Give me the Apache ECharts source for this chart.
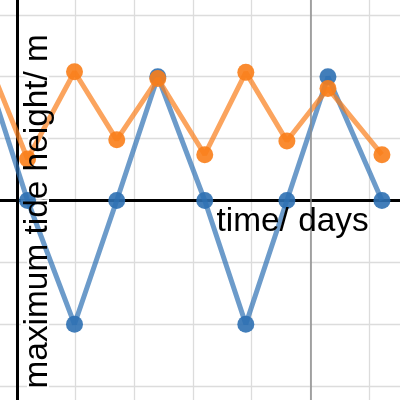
<!DOCTYPE html>
<html>
<head>
<meta charset="utf-8">
<script src="https://cdn.jsdelivr.net/npm/echarts@6/dist/echarts.min.js"></script>
<style>
html,body{margin:0;padding:0;background:#fff;}
#c{width:400px;height:400px;}
</style>
</head>
<body>
<div id="c"></div>
<script>
// time in days
var days = [-2.5, 0.9, 4.9, 8.5, 12, 16, 19.5, 23, 26.5, 31.1];
// blue series (maximum tide height / m)
var blueHeights = [2, 0, -2, 0, 2, 0, -2, 0, 2, 0];
// orange series (maximum tide height / m)
var orangeHeights = [2.27, 0.67, 2.08, 0.98, 1.97, 0.74, 2.07, 0.96, 1.81, 0.74];
// major gridline position (days)
var majorX = [25];
var xTitle = 'time/ days';
var yTitle = 'maximum tide height/ m';

function pairs(xs, ys){ return xs.map(function(x,i){ return [x, ys[i]]; }); }

var chart = echarts.init(document.getElementById('c'), null, {renderer:'canvas'});
var gridColor = '#dcdcdc';
var FONT = '33.4px "Liberation Sans", Arial, sans-serif';
function titleText(text, x, y, rot, halo){
  var st = { text: text, font: FONT, fill: halo ? 'rgba(0,0,0,0)' : '#000',
    align: 'left', verticalAlign: 'middle' };
  if (halo) { st.stroke = '#fff'; st.lineWidth = 4; }
  return { type: 'text', z: halo ? 2 : 100, x: x, y: y, rotation: rot, silent: true, style: st };
}
chart.setOption({
  animation: false,
  backgroundColor: '#fff',
  grid: { left: -41.67, right: -27.7, top: -47.1, bottom: -48.1, containLabel: false, outerBoundsMode: 'none' },
  xAxis: {
    type: 'value', min: -5, max: 35, interval: 5,
    axisLine: { show: true, onZero: true, lineStyle: { color: '#000', width: 3 } },
    axisTick: { show: false }, axisLabel: { show: false },
    splitLine: { show: true, lineStyle: { color: gridColor, width: 1.3 } }
  },
  yAxis: {
    type: 'value', min: -4, max: 4, interval: 1,
    axisLine: { show: true, onZero: true, lineStyle: { color: '#000', width: 3 } },
    axisTick: { show: false }, axisLabel: { show: false },
    splitLine: { show: true, lineStyle: { color: gridColor, width: 1.3 } }
  },
  series: [
    {
      type: 'line', data: [], z: 1, silent: true,
      markLine: {
        silent: true, symbol: ['none','none'], label: { show: false },
        lineStyle: { color: '#8c8c8c', width: 1.5, type: 'solid' },
        data: majorX.map(function(v){ return { xAxis: v }; })
      }
    },
    {
      type: 'line', data: pairs(days, blueHeights), z: 3,
      symbol: 'circle', symbolSize: 17, showAllSymbol: true,
      lineStyle: { color: '#2d70b3', width: 5, opacity: 0.7 },
      itemStyle: { color: '#2d70b3', opacity: 0.9 }
    },
    {
      type: 'line', data: pairs(days, orangeHeights), z: 4,
      symbol: 'circle', symbolSize: 17, showAllSymbol: true,
      lineStyle: { color: '#fa7e19', width: 5, opacity: 0.7 },
      itemStyle: { color: '#fa7e19', opacity: 0.9 }
    }
  ],
  graphic: [
    titleText(xTitle, 216.5, 221.5, 0, true),
    titleText(yTitle, 38, 388.5, Math.PI/2, true),
    titleText(xTitle, 216.5, 221.5, 0, false),
    titleText(yTitle, 38, 388.5, Math.PI/2, false)
  ]
});
</script>
</body>
</html>
